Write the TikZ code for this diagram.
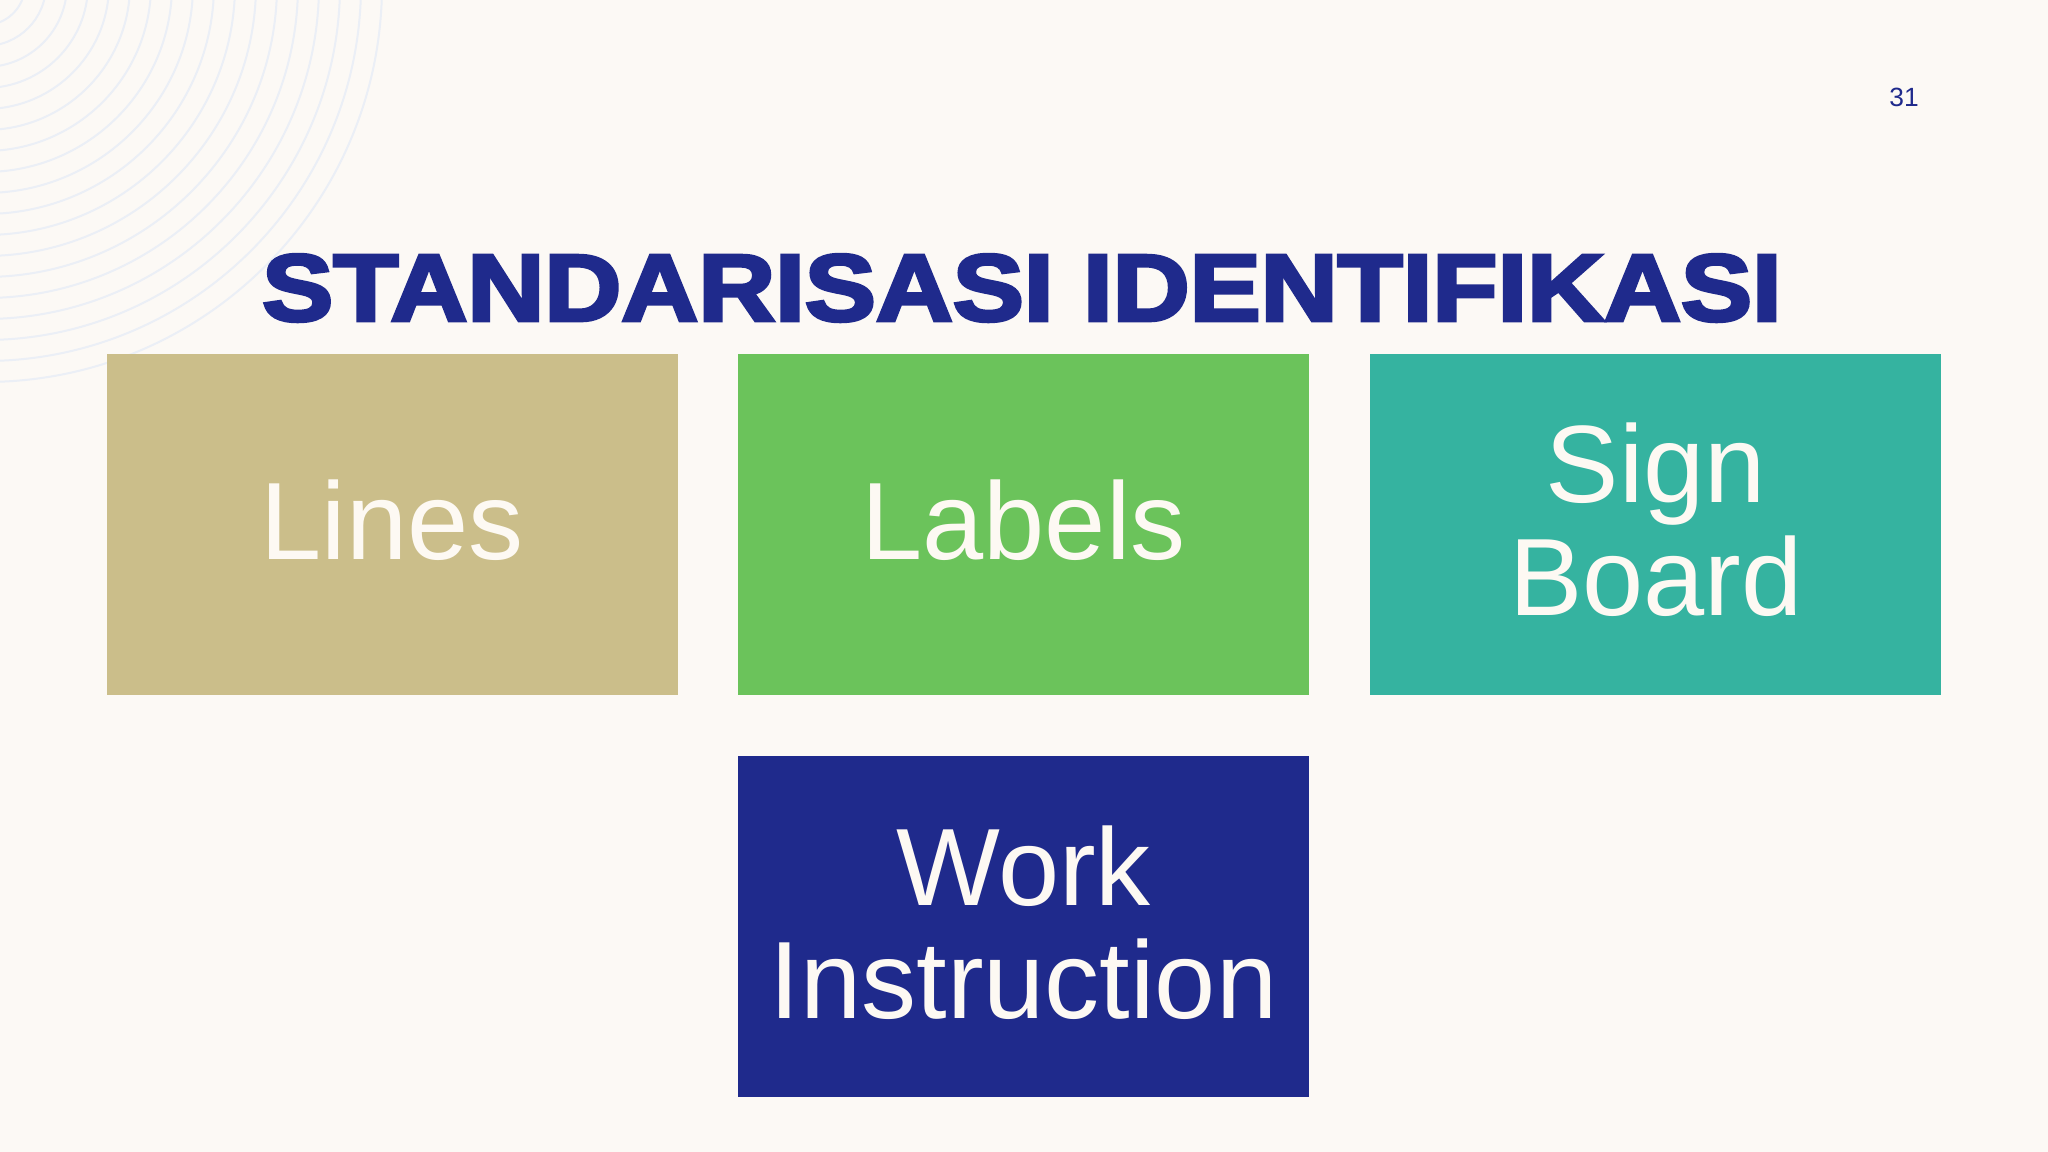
\documentclass[tikz,border=0pt]{standalone}
\usepackage{graphicx}
\usepackage{fontspec}
\setmainfont{Liberation Sans}
\newfontfamily\titlefont[FakeBold=3.5]{Liberation Sans}
\usetikzlibrary{positioning}
\definecolor{slidebg}{HTML}{FCF9F5}
\definecolor{ringblue}{HTML}{EBEFF6}
\definecolor{navy}{HTML}{1F2A8C}
\definecolor{tanbox}{HTML}{CBBE8A}
\definecolor{greenbox}{HTML}{6BC35B}
\definecolor{tealbox}{HTML}{35B3A0}
\definecolor{boxtext}{HTML}{FDF9F3}

\begin{document}
\begin{tikzpicture}[
  box/.style={minimum width=5.71cm, minimum height=3.41cm, inner sep=0pt,
    align=center, text=boxtext, font=\fontsize{31.3}{32.2}\selectfont,
    execute at end node={\rule[-1mm]{0pt}{0pt}}},
  ring/.style={draw=ringblue, line width=0.02cm},
]
  \useasboundingbox (0,0) rectangle (20.48,11.52);
  \fill[slidebg] (0,0) rectangle (20.48,11.52);
  \begin{scope}
    \clip (0,0) rectangle (20.48,11.52);
    \foreach \r in {0.4,0.61,...,4.0}
      \draw[ring] (-0.15,11.67) circle (\r);
  \end{scope}

  \node[anchor=base, text=navy, font=\fontsize{7.5}{9}\selectfont] (page) at (19.04,10.45) {31};
  \node[anchor=base, text=navy, font=\titlefont\bfseries\fontsize{27}{30}\selectfont] (title)
    at (10.22,8.313) {\scalebox{1.123}[1]{STANDARISASI IDENTIFIKASI}};

  \node[box, fill=greenbox] (labels) at (10.235,6.275) {Labels};
  \node[box, fill=tanbox, left=0.59cm of labels] (lines) {Lines};
  \node[box, fill=tealbox, right=0.60cm of labels] (sign) {Sign\\Board};
  \node[box, fill=navy, below=0.60cm of labels] (work) {Work\\Instruction};
\end{tikzpicture}
\end{document}
